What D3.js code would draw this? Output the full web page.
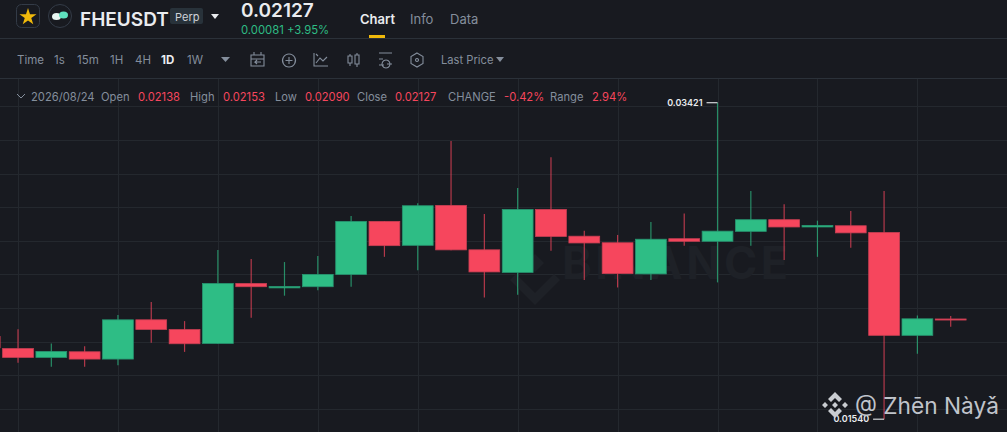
<!DOCTYPE html>
<html lang="en">
<head>
<meta charset="utf-8">
<title>FHEUSDT Perp 1D</title>
<script src="https://cdnjs.cloudflare.com/ajax/libs/d3/7.0.0/d3.min.js"></script>
<style>
  html, body { margin: 0; padding: 0; background: #181a20; overflow: hidden; }
  svg { display: block; }
  text { font-family: Inter, "Noto Sans", sans-serif; }
</style>
</head>
<body>
<script>
// candle values, the first one is cut by the left edge
const opens  = [0.02034, 0.01962, 0.01905, 0.01943, 0.01895, 0.02133, 0.02075, 0.01988, 0.02349, 0.02318, 0.02325, 0.02398, 0.02718, 0.02571, 0.02813, 0.02549, 0.02410, 0.02789, 0.02630, 0.02591, 0.02401, 0.02615, 0.02595, 0.02654, 0.02728, 0.02680, 0.02692, 0.02652, 0.02036, 0.02138];
const highs  = [0.02034, 0.02074, 0.01990, 0.01974, 0.02159, 0.02236, 0.02123, 0.02545, 0.02492, 0.02474, 0.02510, 0.02747, 0.02718, 0.02823, 0.03194, 0.02759, 0.02914, 0.03097, 0.02660, 0.02635, 0.02712, 0.02763, 0.03421, 0.02896, 0.02817, 0.02720, 0.02777, 0.02896, 0.02157, 0.02153];
const lows   = [0.01962, 0.01875, 0.01851, 0.01851, 0.01861, 0.01994, 0.01940, 0.01988, 0.02143, 0.02274, 0.02307, 0.02327, 0.02505, 0.02425, 0.02544, 0.02264, 0.02279, 0.02541, 0.02367, 0.02323, 0.02367, 0.02571, 0.02353, 0.02571, 0.02486, 0.02505, 0.02559, 0.01540, 0.01929, 0.02090];
const closes = [0.01962, 0.01905, 0.01945, 0.01895, 0.02133, 0.02071, 0.01986, 0.02349, 0.02325, 0.02331, 0.02403, 0.02718, 0.02569, 0.02811, 0.02544, 0.02413, 0.02789, 0.02624, 0.02585, 0.02403, 0.02612, 0.02595, 0.02660, 0.02728, 0.02680, 0.02694, 0.02645, 0.02036, 0.02139, 0.02127];
const gridPrices = [0.034, 0.032, 0.030, 0.028, 0.026, 0.024, 0.022, 0.020, 0.018, 0.016];
const candleIdx = d3.range(opens.length);
const gridIdx = d3.range(1, opens.length + 1, 3);

const peakIdx = highs.indexOf(d3.max(highs));
const troughIdx = lows.indexOf(d3.min(lows));

const intervals = ["Time", "1s", "15m", "1H", "4H", "1D", "1W"];
const intervalX = [17, 54, 77, 110, 135, 161, 187];
const legendLabels = ["Open", "High", "Low", "Close", "CHANGE", "Range"];
const legendLabelX = [101, 190, 275, 357, 448, 550];
const legendValues = ["0.02138", "0.02153", "0.02090", "0.02127", "-0.42%", "2.94%"];
const legendValueX = [138, 223, 305, 395, 504, 592];

const w = 1007, h = 432;
const bg = "#181a20", up = "#2ebd85", down = "#f6465d", grid = "#24282e";
const upEdge = "#279470", downEdge = "#c93f53";
const muted = "#848e9c", light = "#eaecef";

const svg = d3.select("body").append("svg").attr("width", w).attr("height", h);
svg.append("rect").attr("width", w).attr("height", h).attr("fill", bg);

const x = d3.scaleLinear().domain([0, 29]).range([-15.3, 950.7]);
const y = d3.scaleLinear().domain([0.0154, 0.03421]).range([419.2, 102.7]);
const bodyW = 31.6;

function label(g, str, px, py, size, fill, weight) {
  return g.append("text").attr("x", px).attr("y", py).attr("font-size", size)
    .attr("fill", fill).attr("font-weight", weight || 400).text(str);
}

// plot grid
const plot = svg.append("g");
plot.selectAll("line.h").data(gridPrices).enter().append("line").attr("class", "h")
  .attr("x1", 0).attr("x2", w)
  .attr("y1", d => Math.round(y(d)) + 0.5).attr("y2", d => Math.round(y(d)) + 0.5)
  .attr("stroke", grid);
plot.selectAll("line.v").data(gridIdx).enter().append("line").attr("class", "v")
  .attr("y1", 79).attr("y2", h)
  .attr("x1", d => Math.round(x(d)) + 0.5).attr("x2", d => Math.round(x(d)) + 0.5)
  .attr("stroke", grid);

// faint BINANCE watermark behind the candles
const mark = plot.append("g").attr("fill", "#1e2127");
mark.append("path").attr("d", "M535 254l9 9-9 9-9-9zM516 274l19 19 19-19 6 6-25 25-25-25z");
mark.append("text").attr("x", 562).attr("y", 279).attr("font-size", 45).attr("font-weight", 700)
  .attr("textLength", 226).text("BINANCE");

// candles
const candles = plot.selectAll("g.candle").data(candleIdx).enter().append("g").attr("class", "candle");
candles.append("line")
  .attr("x1", i => x(i)).attr("x2", i => x(i))
  .attr("y1", i => y(highs[i])).attr("y2", i => y(lows[i]))
  .attr("stroke", i => closes[i] >= opens[i] ? up : down)
  .attr("stroke-opacity", 0.7)
  .attr("stroke-width", 1.2);
candles.append("rect")
  .attr("x", i => x(i) - bodyW / 2 + 0.4).attr("width", bodyW - 0.8)
  .attr("y", i => y(Math.max(opens[i], closes[i])) + 0.4)
  .attr("height", i => Math.max(0.6, Math.abs(y(opens[i]) - y(closes[i])) - 0.8))
  .attr("fill", i => closes[i] >= opens[i] ? up : down)
  .attr("stroke", i => closes[i] >= opens[i] ? upEdge : downEdge)
  .attr("stroke-width", 0.8);

// high and low markers
function extreme(idx, price) {
  const g = svg.append("g");
  g.append("line").attr("x1", x(idx) - 11).attr("x2", x(idx))
    .attr("y1", y(price)).attr("y2", y(price)).attr("stroke", "#d5d7da").attr("stroke-width", 1.2);
  label(g, d3.format(".5f")(price), x(idx) - 15, y(price) + 3, 9, "#eaecef", 600).attr("text-anchor", "end");
}
extreme(peakIdx, highs[peakIdx]);
extreme(troughIdx, lows[troughIdx]);

// top bar
const head = svg.append("g");
head.append("rect").attr("x", 16.5).attr("y", 4.5).attr("width", 23).attr("height", 23).attr("rx", 5)
  .attr("fill", "none").attr("stroke", "#333b47");
head.append("path").attr("fill", "#f0b90b")
  .attr("d", d3.symbol(d3.symbolStar, 90)()).attr("transform", "translate(28,17)");
head.append("circle").attr("cx", 60).attr("cy", 16).attr("r", 11.5).attr("fill", "none").attr("stroke", "#333b47");
head.append("ellipse").attr("cx", 56.5).attr("cy", 16.5).attr("rx", 4.5).attr("ry", 3.5).attr("fill", "#e8f5f1");
head.append("ellipse").attr("cx", 63.5).attr("cy", 15).attr("rx", 4.5).attr("ry", 3.5).attr("fill", "#5ee0bd");
label(head, "FHEUSDT", 80, 26, 19, light, 600);
head.append("rect").attr("x", 170).attr("y", 8).attr("width", 33).attr("height", 16).attr("rx", 2).attr("fill", "#28323a");
label(head, "Perp", 175, 21, 11, "#cfd3d8");
head.append("path").attr("d", "M211 14h8l-4 5z").attr("fill", light);
label(head, "0.02127", 241, 17, 19, light, 600);
label(head, "0.00081 +3.95%", 241, 33.5, 11.3, up);
label(head, "Chart", 360, 24, 13, light, 600);
label(head, "Info", 410, 24, 13, muted);
label(head, "Data", 450, 24, 13, muted);
head.append("rect").attr("x", 369).attr("y", 35).attr("width", 16).attr("height", 3).attr("fill", "#f0b90b");
head.append("line").attr("x1", 0).attr("x2", w).attr("y1", 38.5).attr("y2", 38.5).attr("stroke", "#2b3139");

// toolbar
const bar = svg.append("g");
intervals.forEach((t, i) => label(bar, t, intervalX[i], 64, 11.5, t === "1D" ? light : muted, t === "1D" ? 700 : 400));
bar.append("path").attr("d", "M221 57h9l-4.5 5z").attr("fill", muted);
const icons = bar.append("g").attr("fill", "none").attr("stroke", muted).attr("stroke-width", 1.1);
icons.append("path").attr("d", "M251 55h13v11h-13zM251 59h13M254 52v3M261 52v3M261 62h-6l2-2m-2 2l2 2");
icons.append("path").attr("d", "M289 54a6.5 6.5 0 1 0 .01 0zM285.5 60.5h7M289 57v7");
icons.append("path").attr("d", "M314 53v13h14M316 63l4-5 3 3 4-4M316 54l2 2");
icons.append("path").attr("d", "M348 56h4v7h-4zM355 55h4v9h-4zM350 54v2M350 63v3M357 53v2M357 64v3");
icons.append("path").attr("d", "M379 53h13M379 59h4M379 65h5M386 60a4 4 0 1 0 .01 0zM387 64h5");
icons.append("path").attr("d", "M417 53l6 3.5v7l-6 3.5-6-3.5v-7zM417 58.5a1.5 1.5 0 1 0 .01 0z");
label(bar, "Last Price", 441, 64, 11.2, muted);
bar.append("path").attr("d", "M496 57h8l-4 5z").attr("fill", muted);
bar.append("line").attr("x1", 0).attr("x2", w).attr("y1", 78.5).attr("y2", 78.5).attr("stroke", "#2b3139");

// ohlc row
const legend = svg.append("g");
legend.append("path").attr("d", "M17 94l4 4 4-4").attr("fill", "none").attr("stroke", muted);
label(legend, "2026/08/24", 31, 100.5, 11.2, muted);
legendLabels.forEach((t, i) => label(legend, t, legendLabelX[i], 100.5, 11.2, muted));
legendValues.forEach((t, i) => label(legend, t, legendValueX[i], 100.5, 11.2, down));

// account watermark bottom right
const tag = svg.append("g");
tag.append("path").attr("fill", "#c9ccd1")
  .attr("d", "M835 392l7 7-3 3-4-4-4 4-3-3zM825 402l3 3-3 3-3-3zM845 402l3 3-3 3-3-3zM835 402l3 3-3 3-3-3zM828 411l3-3 4 4 4-4 3 3-7 7z");
label(tag, "@ Zhēn Nàyǎ", 855, 414, 22.7, "#c0c4cb");
</script>
</body>
</html>
